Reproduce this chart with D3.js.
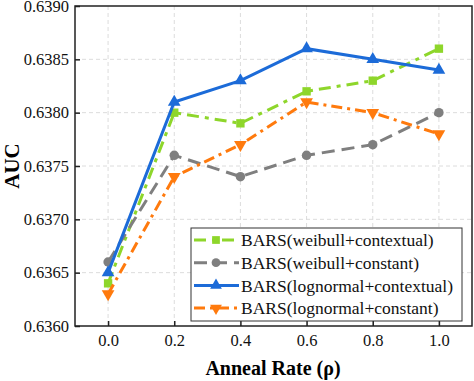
<!DOCTYPE html>
<html>
<head>
<meta charset="utf-8">
<script src="https://cdn.jsdelivr.net/npm/d3@7"></script>
<style>
  body { margin: 0; background: #fff; }
</style>
</head>
<body>
<div id="chart"></div>
<script>
// data
const rates = [0.0, 0.2, 0.4, 0.6, 0.8, 1.0];
const weibullContextual = [0.6364, 0.6380, 0.6379, 0.6382, 0.6383, 0.6386];
const weibullConstant = [0.6366, 0.6376, 0.6374, 0.6376, 0.6377, 0.6380];
const lognormalContextual = [0.6365, 0.6381, 0.6383, 0.6386, 0.6385, 0.6384];
const lognormalConstant = [0.6363, 0.6374, 0.6377, 0.6381, 0.6380, 0.6378];
const xTicks = [0.0, 0.2, 0.4, 0.6, 0.8, 1.0];
const yTicks = [0.6360, 0.6365, 0.6370, 0.6375, 0.6380, 0.6385, 0.6390];

const series = [
    { name: "BARS(weibull+contextual)", values: weibullContextual, color: "#8ed62b", dash: "12,6,4,6", marker: d3.symbolSquare },
    { name: "BARS(weibull+constant)", values: weibullConstant, color: "#7f7f7f", dash: "13,7", marker: d3.symbolCircle },
    { name: "BARS(lognormal+contextual)", values: lognormalContextual, color: "#1c6bd8", dash: null, marker: d3.symbolTriangle },
    { name: "BARS(lognormal+constant)", values: lognormalConstant, color: "#ff7a0d", dash: "11,5,3,5", marker: "down" }
];

const serif = '"Liberation Serif", "Times New Roman", serif';
let width = 474, height = 381;
let margin = { top: 6, right: 2, bottom: 55, left: 75 };

let svg = d3.select("#chart")
    .append("svg")
    .attr("width", width)
    .attr("height", height)
    .attr("font-family", serif);

const x = d3.scaleLinear()
    .domain([-0.1, 1.1])
    .range([margin.left, width - margin.right]);
const y = d3.scaleLinear()
    .domain([0.636, 0.639])
    .range([height - margin.bottom, margin.top]);

// grid lines
svg.append("g")
    .selectAll("line")
    .data(xTicks)
    .join("line")
    .attr("x1", d => x(d)).attr("x2", d => x(d))
    .attr("y1", margin.top).attr("y2", height - margin.bottom)
    .attr("stroke", "#dcdcdc").attr("stroke-dasharray", "4,3").attr("stroke-width", 1);
svg.append("g")
    .selectAll("line")
    .data(yTicks.slice(1, -1))
    .join("line")
    .attr("x1", margin.left).attr("x2", width - margin.right)
    .attr("y1", d => y(d)).attr("y2", d => y(d))
    .attr("stroke", "#dcdcdc").attr("stroke-dasharray", "4,3").attr("stroke-width", 1);

// axes, ticks pointing inward
const xAxis = svg.append("g")
    .attr("transform", "translate(0," + (height - margin.bottom) + ")")
    .call(d3.axisBottom(x).tickValues(xTicks).tickFormat(d3.format(".1f")).tickSizeInner(-5).tickSizeOuter(0).tickPadding(8));
const yAxis = svg.append("g")
    .attr("transform", "translate(" + margin.left + ",0)")
    .call(d3.axisLeft(y).tickValues(yTicks).tickFormat(d3.format(".4f")).tickSizeInner(-5).tickSizeOuter(0).tickPadding(6));
[xAxis, yAxis].forEach(a => {
    a.attr("font-family", serif).attr("font-size", 16.5);
    a.selectAll("path, line").attr("stroke", "#222").attr("stroke-width", 1.5);
    a.selectAll("text").attr("fill", "#111");
});
xAxis.select(".domain").remove();
yAxis.select(".domain").remove();

// frame around the plot
svg.append("rect")
    .attr("x", margin.left).attr("y", margin.top)
    .attr("width", width - margin.left - margin.right)
    .attr("height", height - margin.top - margin.bottom)
    .attr("fill", "none").attr("stroke", "#222").attr("stroke-width", 1.5);

function symbolPath(marker, size) {
    if (marker === "down") {
        return d3.symbol().type(d3.symbolTriangle).size(size)();
    }
    return d3.symbol().type(marker).size(size)();
}

// lines and markers
const line = d3.line().x((d, i) => x(rates[i])).y(d => y(d));
series.forEach(s => {
    svg.append("path")
        .datum(s.values)
        .attr("d", line)
        .attr("fill", "none")
        .attr("stroke", s.color)
        .attr("stroke-width", 3)
        .attr("stroke-dasharray", s.dash);
    svg.append("g")
        .selectAll("path")
        .data(s.values)
        .join("path")
        .attr("d", symbolPath(s.marker, 70))
        .attr("transform", (d, i) => "translate(" + x(rates[i]) + "," + y(d) + ")" + (s.marker === "down" ? " rotate(180)" : ""))
        .attr("fill", s.color);
});

// legend
const legend = svg.append("g").attr("transform", "translate(191,228)");
legend.append("rect")
    .attr("width", 271).attr("height", 93)
    .attr("fill", "#fff").attr("stroke", "#333").attr("stroke-width", 1);
const rows = legend.selectAll("g")
    .data(series)
    .join("g")
    .attr("transform", (d, i) => "translate(0," + (12 + i * 22.7) + ")");
rows.append("line")
    .attr("x1", 3).attr("x2", 48)
    .attr("stroke", d => d.color).attr("stroke-width", 3)
    .attr("stroke-dasharray", d => d.dash);
rows.append("path")
    .attr("d", d => symbolPath(d.marker, 60))
    .attr("transform", d => "translate(25,0)" + (d.marker === "down" ? " rotate(180)" : ""))
    .attr("fill", d => d.color);
rows.append("text")
    .attr("x", 50).attr("dy", "0.35em")
    .attr("font-size", 17.5)
    .attr("fill", "#111")
    .text(d => d.name);

// axis titles
svg.append("text")
    .attr("x", 273).attr("y", 375)
    .attr("text-anchor", "middle")
    .attr("font-size", 20).attr("font-weight", "bold")
    .text("Anneal Rate (ρ)");
svg.append("text")
    .attr("transform", "translate(19,166) rotate(-90)")
    .attr("text-anchor", "middle")
    .attr("font-size", 21).attr("font-weight", "bold")
    .text("AUC");
</script>
</body>
</html>
